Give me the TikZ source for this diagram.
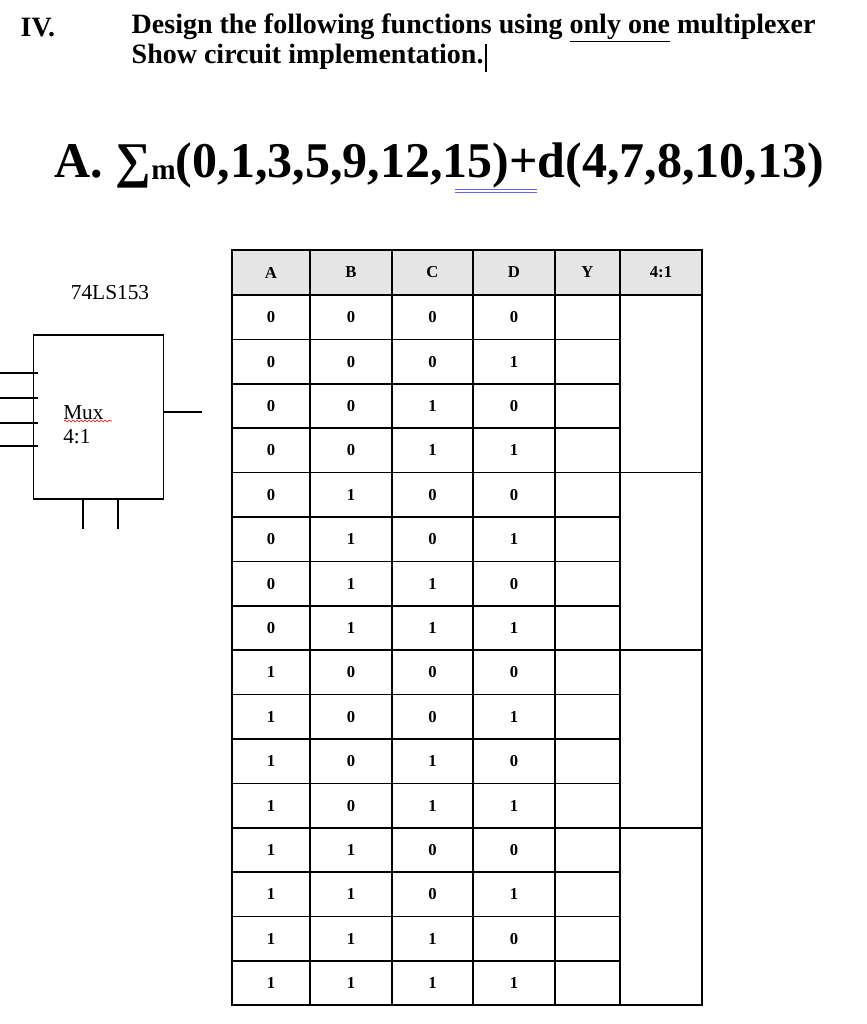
\documentclass[tikz,border=0pt]{standalone}
\usepackage{fontspec}
\setmainfont{Liberation Serif}
\usetikzlibrary{decorations.pathmorphing}
\begin{document}
\begin{tikzpicture}[x=0.75pt,y=-0.75pt,
  cell/.style={font=\bfseries\fontsize{12.5}{14}\selectfont},
  wire/.style={line width=0.9pt},
  tab/.style={line width=1.3pt}]
\useasboundingbox (0,0) rectangle (867,1024);
% title
\node[anchor=west,font=\bfseries\fontsize{21}{24}\selectfont] (iv) at (16,28) {IV.};
\node[anchor=west,font=\bfseries\fontsize{21}{24}\selectfont] (l1) at (127,28) {Design the following functions using \underline{only one} multiplexer};
\node[anchor=west,font=\bfseries\fontsize{21}{24}\selectfont] (l2) at (127,57) {Show circuit implementation.};
\draw[line width=1.8pt] (l2.east)++(-2,-13) -- ++(0,28);
% formula
\node[anchor=west,font=\bfseries\fontsize{37.5}{40}\selectfont] (f) at (50,165) {A. ∑\raisebox{-0.1ex}{\fontsize{22}{24}\selectfont m}(0,1,3,5,9,12,15)+d(4,7,8,10,13)};
\draw[blue!60,line width=0.6pt] (455,189) -- (537,189) (455,192) -- (537,192);
% mux
\node[draw,wire,minimum width=98pt,minimum height=123pt,inner sep=0pt] (mux) at (98.5,417) {};
\node[font=\fontsize{16}{18}\selectfont] (t74) at (110,293) {74LS153};
\node[anchor=west,font=\fontsize{16}{18}\selectfont,align=left,inner sep=0pt] (mt) at (63,425) {Mux\\4:1};
\draw[red,line width=0.4pt,decorate,decoration={snake,amplitude=0.8pt,segment length=3pt}] (64,421) -- (112,421);
\foreach \yy [count=\i] in {373,398,423,446} {
  \coordinate (in\i) at (0,\yy);
  \draw[wire] (in\i) -- (38,\yy);
}
\coordinate (out) at (202,412);
\draw[wire] (mux.east |- out) -- (out);
\coordinate (s0) at (83,529); \coordinate (s1) at (118,529);
\draw[wire] (s0) -- (83,499) (s1) -- (118,499);
% table
\fill[gray!20] (232,250) rectangle (702,295);
\foreach \h [count=\i] in {A,B,C,D,Y,4:1} {
  \pgfmathsetmacro{\xa}{{232,310,392,473,555,620}[\i-1]}
  \pgfmathsetmacro{\xb}{{310,392,473,555,620,702}[\i-1]}
  \node[cell] (h\i) at ({(\xa+\xb)/2},272.5) {\h};
}
\foreach \r in {0,...,15} {
  \pgfmathtruncatemacro{\a}{mod(floor(\r/8),2)}
  \pgfmathtruncatemacro{\b}{mod(floor(\r/4),2)}
  \pgfmathtruncatemacro{\c}{mod(floor(\r/2),2)}
  \pgfmathtruncatemacro{\d}{mod(\r,2)}
  \pgfmathsetmacro{\yc}{295+44.4*\r+22.2}
  \node[cell] (a\r) at (271,\yc) {\a};
  \node[cell] (b\r) at (351,\yc) {\b};
  \node[cell] (c\r) at (432.5,\yc) {\c};
  \node[cell] (d\r) at (514,\yc) {\d};
  \pgfmathsetmacro{\yl}{295+44.4*\r}
  \draw[tab] (232,\yl) -- (620,\yl);
}
\foreach \g in {0,1,2,3} {
  \pgfmathsetmacro{\yl}{295+177.6*\g}
  \draw[tab] (620,\yl) -- (702,\yl);
}
\draw[tab] (232,250) rectangle (702,1005);
\foreach \x in {310,392,473,555,620} \draw[tab] (\x,250) -- (\x,1005);
\end{tikzpicture}
\end{document}
